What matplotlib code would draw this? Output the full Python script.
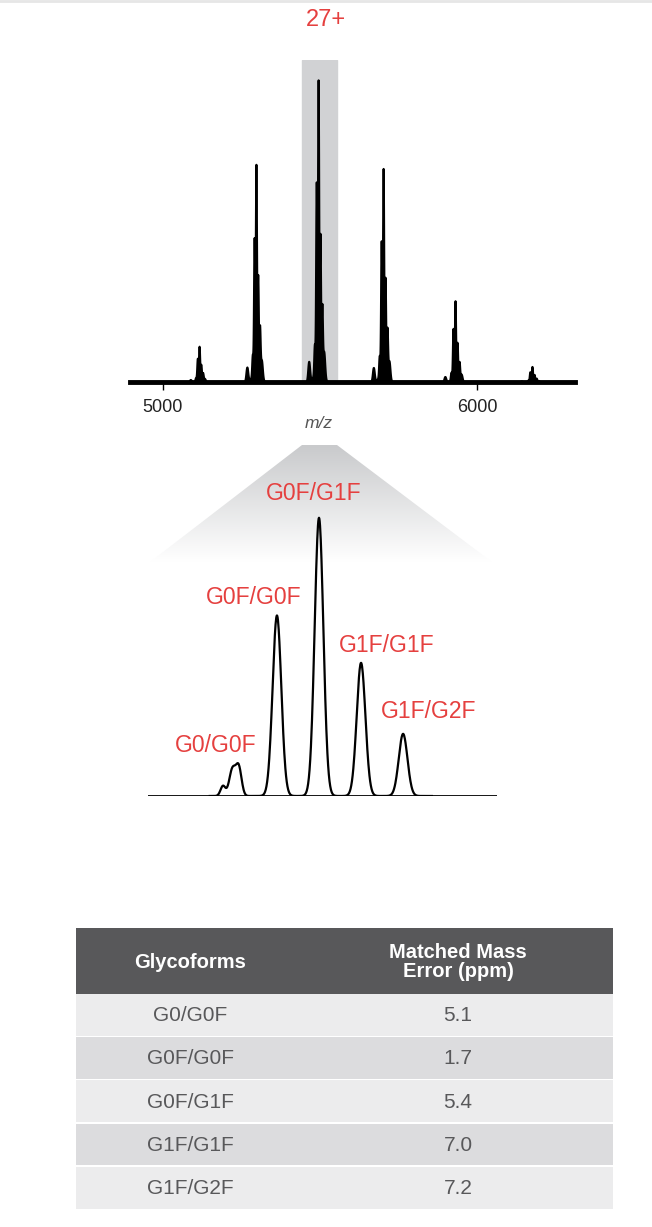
import numpy as np
import matplotlib
matplotlib.use("Agg")
import matplotlib.pyplot as plt
from matplotlib.patches import Polygon, Rectangle

W, H = 652, 1227
RED = "#e5403f"

# top spectrum: charge-state envelopes
charge_mz = [5115, 5296, 5494, 5701, 5930, 6175]
charge_h = [0.105, 0.64, 0.89, 0.63, 0.24, 0.046]
charges = [29, 28, 27, 26, 25, 24]
# relative glycoform intensities
glyco_names = ["G0/G0F", "G0F/G0F", "G0F/G1F", "G1F/G1F", "G1F/G2F"]
glyco_rel = [0.10, 0.65, 1.0, 0.47, 0.23]
glyco_offset = [-2, -1, 0, 1, 2]  # in hexose units

# zoom panel (27+)
zoom_mz = [5488, 5494, 5500, 5506, 5512]
zoom_h = [0.095, 0.61, 0.94, 0.45, 0.21]
zoom_small_mz = [5486.3]
zoom_small_h = [0.034]

# table
col_headers = ["Glycoforms", "Matched Mass\nError (ppm)"]
mass_error = ["5.1", "1.7", "5.4", "7.0", "7.2"]

fig = plt.figure(figsize=(W / 100, H / 100), dpi=100)
plt.rcParams["font.family"] = ["Liberation Sans", "DejaVu Sans"]


def fax(x0, y0, x1, y1):
    return fig.add_axes([x0 / W, 1 - y1 / H, (x1 - x0) / W, (y1 - y0) / H])


ov = fig.add_axes([0, 0, 1, 1])
ov.set_xlim(0, W)
ov.set_ylim(H, 0)
ov.axis("off")
ov.axhline(1, color="#e6e6e6", lw=2)

# gradient trapezoid
poly = Polygon([(302, 445), (337, 445), (492, 562), (150, 562)], closed=True,
               facecolor="none", edgecolor="none")
ov.add_patch(poly)
grad = np.linspace(0, 1, 200).reshape(-1, 1)
im = ov.imshow(grad, cmap=matplotlib.colors.LinearSegmentedColormap.from_list(
    "g", ["#c9cacc", "#ffffff"]), extent=(150, 492, 562, 445), aspect="auto", zorder=0)
im.set_clip_path(poly)

# top spectrum
ax = fax(130, 60, 575, 382)
mz = np.arange(4895, 6312, 0.25)
y = np.zeros_like(mz)
for c, h, z in zip(charge_mz, charge_h, charges):
    step = 162.0 / z
    for off, r in zip(glyco_offset, glyco_rel):
        y += h * r * np.exp(-0.5 * ((mz - c - off * step) / 1.8) ** 2)
    y += h * 0.07 * np.exp(-0.5 * ((mz - c + 5 * step) / 3) ** 2)
    y += h * 0.09 * np.exp(-0.5 * ((mz - c - 3 * step) / 3) ** 2)
    y += h * 0.05 * np.exp(-0.5 * ((mz - c) / 12) ** 2)
ax.fill_between(mz, 0, y, color="black", lw=1.5, edgecolor="black")
ax.axvspan(5443, 5554, color="#d1d2d4", zorder=0)
ax.set_xlim(4895, 6312)
ax.set_ylim(0, 1)
for s in ["top", "left", "right"]:
    ax.spines[s].set_visible(False)
ax.spines["bottom"].set_linewidth(3.5)
ax.set_yticks([])
ax.set_xticks([5000, 6000])
ax.tick_params(axis="x", length=6, width=1, labelsize=13, pad=6, labelcolor="#222")
ax.set_facecolor("none")
ov.text(326, 20, "27+", color=RED, fontsize=17, ha="center", va="center")
ov.text(319, 424, "m/z", color="#555", fontsize=12.5, style="italic", ha="center", va="center")

# zoom panel
az = fax(148, 500, 497, 796)
zx = np.arange(5484.4, 5516.1, 0.05)
zy = np.zeros_like(zx)
for m, h in zip(zoom_mz, zoom_h):
    if m == zoom_mz[0]:
        zy += h * np.exp(-0.5 * ((zx - m + 0.35) / 0.45) ** 2) * 0.95
        zy += h * np.exp(-0.5 * ((zx - m - 0.55) / 0.4) ** 2)
    else:
        zy += h * np.exp(-0.5 * ((zx - m) / 0.62) ** 2)
zy += zoom_small_h[0] * np.exp(-0.5 * ((zx - zoom_small_mz[0]) / 0.35) ** 2)
az.plot(zx, zy, color="black", lw=1.6)
az.set_xlim(5475.6, 5525.4)
az.set_ylim(0, 1)
az.axhline(0, color="black", lw=2)
az.axis("off")
az.set_facecolor("none")
label_pos = [(216, 745), (254, 598), (314, 494), (387, 645), (429, 712)]
for name, (lx, ly) in zip(glyco_names, label_pos):
    ov.text(lx, ly, name, color=RED, fontsize=16.5, ha="center", va="center")

# table
tx0, tx1 = 76, 613
ov.add_patch(Rectangle((tx0, 928), tx1 - tx0, 66, color="#58585a", lw=0))
ov.text(190, 962, col_headers[0], color="white", fontsize=14.5, fontweight="bold",
        ha="center", va="center")
ov.text(458, 962, col_headers[1], color="white", fontsize=14.5, fontweight="bold",
        ha="center", va="center", linespacing=1.05)
row_h = 43.2
for i, (g, e) in enumerate(zip(glyco_names, mass_error)):
    y0 = 994 + i * row_h
    ov.add_patch(Rectangle((tx0, y0), tx1 - tx0, row_h - 1.5,
                           color="#ececed" if i % 2 == 0 else "#dcdcde", lw=0))
    ov.text(190, y0 + row_h / 2, g, color="#58585a", fontsize=15, ha="center", va="center")
    ov.text(458, y0 + row_h / 2, e, color="#58585a", fontsize=15, ha="center", va="center")

fig.savefig("out.png", dpi=100)
